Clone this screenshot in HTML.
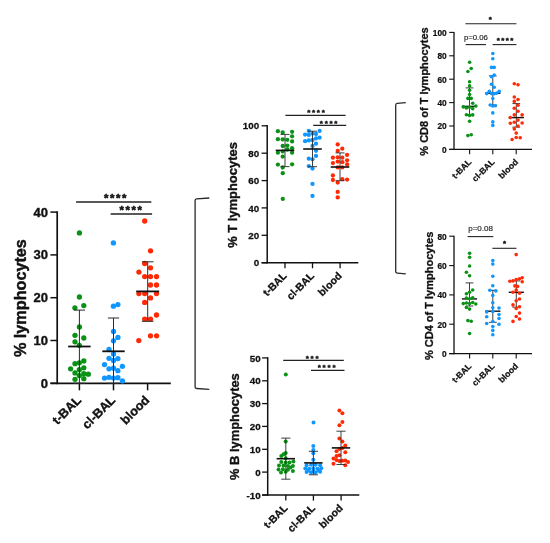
<!DOCTYPE html>
<html><head><meta charset="utf-8"><title>Lymphocyte subsets</title>
<style>
html,body{margin:0;padding:0;background:#fff;}
svg{display:block;font-family:"Liberation Sans",Arial,sans-serif;filter:blur(0.4px);}
</style></head><body>
<svg width="550" height="543" viewBox="0 0 550 543">
<rect width="550" height="543" fill="#fff"/>
<line x1="57.2" y1="211.3" x2="57.2" y2="384.2" stroke="#111" stroke-width="1.7" stroke-linecap="butt"/>
<line x1="50.4" y1="383.3" x2="170.8" y2="383.3" stroke="#111" stroke-width="1.7" stroke-linecap="butt"/>
<line x1="50.4" y1="383.3" x2="57.2" y2="383.3" stroke="#111" stroke-width="1.5" stroke-linecap="butt"/>
<text x="48.0" y="387.8" font-size="13" font-weight="bold" text-anchor="end" fill="#111" stroke="#111" stroke-width="0.36">0</text>
<line x1="50.4" y1="340.5" x2="57.2" y2="340.5" stroke="#111" stroke-width="1.5" stroke-linecap="butt"/>
<text x="48.0" y="345.0" font-size="13" font-weight="bold" text-anchor="end" fill="#111" stroke="#111" stroke-width="0.36">10</text>
<line x1="50.4" y1="297.7" x2="57.2" y2="297.7" stroke="#111" stroke-width="1.5" stroke-linecap="butt"/>
<text x="48.0" y="302.2" font-size="13" font-weight="bold" text-anchor="end" fill="#111" stroke="#111" stroke-width="0.36">20</text>
<line x1="50.4" y1="254.9" x2="57.2" y2="254.9" stroke="#111" stroke-width="1.5" stroke-linecap="butt"/>
<text x="48.0" y="259.4" font-size="13" font-weight="bold" text-anchor="end" fill="#111" stroke="#111" stroke-width="0.36">30</text>
<line x1="50.4" y1="212.1" x2="57.2" y2="212.1" stroke="#111" stroke-width="1.5" stroke-linecap="butt"/>
<text x="48.0" y="216.6" font-size="13" font-weight="bold" text-anchor="end" fill="#111" stroke="#111" stroke-width="0.36">40</text>
<line x1="79.4" y1="383.3" x2="79.4" y2="390.3" stroke="#111" stroke-width="1.5" stroke-linecap="butt"/>
<text transform="translate(82.0,400.9) rotate(-45)" font-size="12.7" font-weight="bold" text-anchor="end" fill="#111" stroke="#111" stroke-width="0.36">t-BAL</text>
<line x1="113.5" y1="383.3" x2="113.5" y2="390.3" stroke="#111" stroke-width="1.5" stroke-linecap="butt"/>
<text transform="translate(116.1,400.9) rotate(-45)" font-size="12.7" font-weight="bold" text-anchor="end" fill="#111" stroke="#111" stroke-width="0.36">cl-BAL</text>
<line x1="147.6" y1="383.3" x2="147.6" y2="390.3" stroke="#111" stroke-width="1.5" stroke-linecap="butt"/>
<text transform="translate(150.2,400.9) rotate(-45)" font-size="12.7" font-weight="bold" text-anchor="end" fill="#111" stroke="#111" stroke-width="0.36">blood</text>
<text transform="translate(26.3,298.1) rotate(-90)" font-size="16.2" font-weight="bold" text-anchor="middle" fill="#111" stroke="#111" stroke-width="0.45">% lymphocytes</text>
<circle cx="79.4" cy="232.9" r="2.65" fill="#0a9216"/>
<circle cx="79.4" cy="297.0" r="2.65" fill="#0a9216"/>
<circle cx="83.8" cy="305.6" r="2.65" fill="#0a9216"/>
<circle cx="74.9" cy="307.8" r="2.65" fill="#0a9216"/>
<circle cx="79.4" cy="326.9" r="2.65" fill="#0a9216"/>
<circle cx="75.0" cy="335.3" r="2.65" fill="#0a9216"/>
<circle cx="83.8" cy="338.0" r="2.65" fill="#0a9216"/>
<circle cx="75.0" cy="341.8" r="2.65" fill="#0a9216"/>
<circle cx="79.3" cy="345.3" r="2.65" fill="#0a9216"/>
<circle cx="83.8" cy="360.9" r="2.65" fill="#0a9216"/>
<circle cx="79.3" cy="362.8" r="2.65" fill="#0a9216"/>
<circle cx="75.0" cy="363.7" r="2.65" fill="#0a9216"/>
<circle cx="83.8" cy="367.8" r="2.65" fill="#0a9216"/>
<circle cx="70.6" cy="368.8" r="2.65" fill="#0a9216"/>
<circle cx="79.3" cy="369.7" r="2.65" fill="#0a9216"/>
<circle cx="75.0" cy="372.9" r="2.65" fill="#0a9216"/>
<circle cx="83.8" cy="373.7" r="2.65" fill="#0a9216"/>
<circle cx="88.3" cy="374.2" r="2.65" fill="#0a9216"/>
<circle cx="79.3" cy="375.6" r="2.65" fill="#0a9216"/>
<circle cx="75.0" cy="379.3" r="2.65" fill="#0a9216"/>
<circle cx="83.8" cy="378.7" r="2.65" fill="#0a9216"/>
<line x1="79.4" y1="310.1" x2="79.4" y2="383.3" stroke="#2a2a2a" stroke-width="1" stroke-linecap="butt"/>
<line x1="73.8" y1="310.1" x2="85.0" y2="310.1" stroke="#2a2a2a" stroke-width="1" stroke-linecap="butt"/>
<line x1="73.8" y1="383.3" x2="85.0" y2="383.3" stroke="#2a2a2a" stroke-width="1" stroke-linecap="butt"/>
<line x1="68.2" y1="346.5" x2="90.6" y2="346.5" stroke="#111" stroke-width="1.8" stroke-linecap="butt"/>
<circle cx="113.4" cy="242.9" r="2.65" fill="#0f96ff"/>
<circle cx="113.4" cy="306.2" r="2.65" fill="#0f96ff"/>
<circle cx="117.9" cy="304.6" r="2.65" fill="#0f96ff"/>
<circle cx="113.5" cy="331.5" r="2.65" fill="#0f96ff"/>
<circle cx="117.9" cy="337.4" r="2.65" fill="#0f96ff"/>
<circle cx="113.5" cy="340.8" r="2.65" fill="#0f96ff"/>
<circle cx="109.0" cy="349.5" r="2.65" fill="#0f96ff"/>
<circle cx="113.5" cy="353.9" r="2.65" fill="#0f96ff"/>
<circle cx="109.0" cy="358.3" r="2.65" fill="#0f96ff"/>
<circle cx="117.9" cy="358.6" r="2.65" fill="#0f96ff"/>
<circle cx="113.5" cy="360.5" r="2.65" fill="#0f96ff"/>
<circle cx="104.5" cy="364.6" r="2.65" fill="#0f96ff"/>
<circle cx="122.4" cy="366.3" r="2.65" fill="#0f96ff"/>
<circle cx="109.0" cy="368.8" r="2.65" fill="#0f96ff"/>
<circle cx="113.5" cy="368.2" r="2.65" fill="#0f96ff"/>
<circle cx="117.9" cy="370.7" r="2.65" fill="#0f96ff"/>
<circle cx="104.5" cy="378.1" r="2.65" fill="#0f96ff"/>
<circle cx="109.0" cy="377.3" r="2.65" fill="#0f96ff"/>
<circle cx="113.5" cy="378.1" r="2.65" fill="#0f96ff"/>
<circle cx="117.9" cy="377.7" r="2.65" fill="#0f96ff"/>
<circle cx="122.4" cy="380.9" r="2.65" fill="#0f96ff"/>
<line x1="113.5" y1="318.0" x2="113.5" y2="383.3" stroke="#2a2a2a" stroke-width="1" stroke-linecap="butt"/>
<line x1="107.9" y1="318.0" x2="119.1" y2="318.0" stroke="#2a2a2a" stroke-width="1" stroke-linecap="butt"/>
<line x1="107.9" y1="383.3" x2="119.1" y2="383.3" stroke="#2a2a2a" stroke-width="1" stroke-linecap="butt"/>
<line x1="102.3" y1="351.3" x2="124.7" y2="351.3" stroke="#111" stroke-width="1.8" stroke-linecap="butt"/>
<circle cx="144.7" cy="221.0" r="2.65" fill="#ff2a05"/>
<circle cx="150.5" cy="250.8" r="2.65" fill="#ff2a05"/>
<circle cx="144.7" cy="263.5" r="2.65" fill="#ff2a05"/>
<circle cx="150.5" cy="267.8" r="2.65" fill="#ff2a05"/>
<circle cx="138.9" cy="272.1" r="2.65" fill="#ff2a05"/>
<circle cx="144.7" cy="276.6" r="2.65" fill="#ff2a05"/>
<circle cx="150.5" cy="276.6" r="2.65" fill="#ff2a05"/>
<circle cx="156.5" cy="276.6" r="2.65" fill="#ff2a05"/>
<circle cx="150.5" cy="285.0" r="2.65" fill="#ff2a05"/>
<circle cx="156.5" cy="285.0" r="2.65" fill="#ff2a05"/>
<circle cx="138.9" cy="293.6" r="2.65" fill="#ff2a05"/>
<circle cx="144.7" cy="293.6" r="2.65" fill="#ff2a05"/>
<circle cx="156.5" cy="293.6" r="2.65" fill="#ff2a05"/>
<circle cx="150.5" cy="297.9" r="2.65" fill="#ff2a05"/>
<circle cx="144.7" cy="302.4" r="2.65" fill="#ff2a05"/>
<circle cx="156.5" cy="315.0" r="2.65" fill="#ff2a05"/>
<circle cx="144.7" cy="319.1" r="2.65" fill="#ff2a05"/>
<circle cx="150.5" cy="319.1" r="2.65" fill="#ff2a05"/>
<circle cx="150.5" cy="335.8" r="2.65" fill="#ff2a05"/>
<circle cx="156.6" cy="335.8" r="2.65" fill="#ff2a05"/>
<circle cx="138.8" cy="340.6" r="2.65" fill="#ff2a05"/>
<line x1="147.7" y1="261.8" x2="147.7" y2="321.3" stroke="#2a2a2a" stroke-width="1" stroke-linecap="butt"/>
<line x1="141.9" y1="261.8" x2="153.5" y2="261.8" stroke="#2a2a2a" stroke-width="1" stroke-linecap="butt"/>
<line x1="141.9" y1="321.3" x2="153.5" y2="321.3" stroke="#2a2a2a" stroke-width="1" stroke-linecap="butt"/>
<line x1="136.2" y1="291.4" x2="159.2" y2="291.4" stroke="#111" stroke-width="1.8" stroke-linecap="butt"/>
<line x1="76.1" y1="202.0" x2="151.3" y2="202.0" stroke="#222" stroke-width="1.5" stroke-linecap="butt"/>
<line x1="110.6" y1="214.0" x2="152.1" y2="214.0" stroke="#222" stroke-width="1.5" stroke-linecap="butt"/>
<text x="116.10" y="201.86" font-size="11.3" font-weight="bold" text-anchor="middle" fill="#111" stroke="#111" stroke-width="0.57" stroke-linejoin="round" letter-spacing="1.60">****</text>
<text x="131.60" y="214.46" font-size="11.3" font-weight="bold" text-anchor="middle" fill="#111" stroke="#111" stroke-width="0.57" stroke-linejoin="round" letter-spacing="1.60">****</text>
<line x1="267.2" y1="125.1" x2="267.2" y2="263.4" stroke="#111" stroke-width="1.5" stroke-linecap="butt"/>
<line x1="261.6" y1="262.7" x2="358.3" y2="262.7" stroke="#111" stroke-width="1.5" stroke-linecap="butt"/>
<line x1="261.6" y1="262.7" x2="267.2" y2="262.7" stroke="#111" stroke-width="1.3" stroke-linecap="butt"/>
<text x="259.2" y="266.3" font-size="9.8" font-weight="bold" text-anchor="end" fill="#111" stroke="#111" stroke-width="0.27">0</text>
<line x1="261.6" y1="235.3" x2="267.2" y2="235.3" stroke="#111" stroke-width="1.3" stroke-linecap="butt"/>
<text x="259.2" y="238.9" font-size="9.8" font-weight="bold" text-anchor="end" fill="#111" stroke="#111" stroke-width="0.27">20</text>
<line x1="261.6" y1="207.9" x2="267.2" y2="207.9" stroke="#111" stroke-width="1.3" stroke-linecap="butt"/>
<text x="259.2" y="211.5" font-size="9.8" font-weight="bold" text-anchor="end" fill="#111" stroke="#111" stroke-width="0.27">40</text>
<line x1="261.6" y1="180.6" x2="267.2" y2="180.6" stroke="#111" stroke-width="1.3" stroke-linecap="butt"/>
<text x="259.2" y="184.2" font-size="9.8" font-weight="bold" text-anchor="end" fill="#111" stroke="#111" stroke-width="0.27">60</text>
<line x1="261.6" y1="153.2" x2="267.2" y2="153.2" stroke="#111" stroke-width="1.3" stroke-linecap="butt"/>
<text x="259.2" y="156.8" font-size="9.8" font-weight="bold" text-anchor="end" fill="#111" stroke="#111" stroke-width="0.27">80</text>
<line x1="261.6" y1="125.8" x2="267.2" y2="125.8" stroke="#111" stroke-width="1.3" stroke-linecap="butt"/>
<text x="259.2" y="129.4" font-size="9.8" font-weight="bold" text-anchor="end" fill="#111" stroke="#111" stroke-width="0.27">100</text>
<line x1="285.0" y1="262.7" x2="285.0" y2="268.3" stroke="#111" stroke-width="1.3" stroke-linecap="butt"/>
<text transform="translate(287.4,276.5) rotate(-45)" font-size="10.5" font-weight="bold" text-anchor="end" fill="#111" stroke="#111" stroke-width="0.29">t-BAL</text>
<line x1="312.5" y1="262.7" x2="312.5" y2="268.3" stroke="#111" stroke-width="1.3" stroke-linecap="butt"/>
<text transform="translate(314.9,276.5) rotate(-45)" font-size="10.5" font-weight="bold" text-anchor="end" fill="#111" stroke="#111" stroke-width="0.29">cl-BAL</text>
<line x1="340.1" y1="262.7" x2="340.1" y2="268.3" stroke="#111" stroke-width="1.3" stroke-linecap="butt"/>
<text transform="translate(342.5,276.5) rotate(-45)" font-size="10.5" font-weight="bold" text-anchor="end" fill="#111" stroke="#111" stroke-width="0.29">blood</text>
<text transform="translate(237.2,195.0) rotate(-90)" font-size="12.95" font-weight="bold" text-anchor="middle" fill="#111" stroke="#111" stroke-width="0.36">% T lymphocytes</text>
<circle cx="277.9" cy="131.2" r="2.15" fill="#0a9216"/>
<circle cx="282.7" cy="132.5" r="2.15" fill="#0a9216"/>
<circle cx="292.1" cy="131.8" r="2.15" fill="#0a9216"/>
<circle cx="292.1" cy="136.3" r="2.15" fill="#0a9216"/>
<circle cx="277.9" cy="139.2" r="2.15" fill="#0a9216"/>
<circle cx="282.7" cy="139.4" r="2.15" fill="#0a9216"/>
<circle cx="287.3" cy="139.8" r="2.15" fill="#0a9216"/>
<circle cx="292.1" cy="141.4" r="2.15" fill="#0a9216"/>
<circle cx="282.7" cy="146.0" r="2.15" fill="#0a9216"/>
<circle cx="287.3" cy="145.6" r="2.15" fill="#0a9216"/>
<circle cx="292.1" cy="148.2" r="2.15" fill="#0a9216"/>
<circle cx="287.3" cy="149.5" r="2.15" fill="#0a9216"/>
<circle cx="277.9" cy="152.7" r="2.15" fill="#0a9216"/>
<circle cx="282.7" cy="151.4" r="2.15" fill="#0a9216"/>
<circle cx="292.1" cy="152.7" r="2.15" fill="#0a9216"/>
<circle cx="282.7" cy="156.6" r="2.15" fill="#0a9216"/>
<circle cx="277.9" cy="164.6" r="2.15" fill="#0a9216"/>
<circle cx="292.1" cy="164.3" r="2.15" fill="#0a9216"/>
<circle cx="282.7" cy="167.5" r="2.15" fill="#0a9216"/>
<circle cx="282.8" cy="173.2" r="2.15" fill="#0a9216"/>
<circle cx="282.8" cy="198.9" r="2.15" fill="#0a9216"/>
<line x1="285.0" y1="134.4" x2="285.0" y2="166.6" stroke="#2a2a2a" stroke-width="0.9" stroke-linecap="butt"/>
<line x1="280.5" y1="134.4" x2="289.5" y2="134.4" stroke="#2a2a2a" stroke-width="0.9" stroke-linecap="butt"/>
<line x1="280.5" y1="166.6" x2="289.5" y2="166.6" stroke="#2a2a2a" stroke-width="0.9" stroke-linecap="butt"/>
<line x1="275.7" y1="150.4" x2="294.3" y2="150.4" stroke="#111" stroke-width="1.6" stroke-linecap="butt"/>
<circle cx="308.8" cy="130.9" r="2.15" fill="#0f96ff"/>
<circle cx="319.6" cy="130.9" r="2.15" fill="#0f96ff"/>
<circle cx="305.1" cy="134.6" r="2.15" fill="#0f96ff"/>
<circle cx="308.8" cy="134.9" r="2.15" fill="#0f96ff"/>
<circle cx="312.5" cy="133.5" r="2.15" fill="#0f96ff"/>
<circle cx="316.0" cy="134.0" r="2.15" fill="#0f96ff"/>
<circle cx="319.6" cy="137.7" r="2.15" fill="#0f96ff"/>
<circle cx="316.0" cy="138.4" r="2.15" fill="#0f96ff"/>
<circle cx="305.1" cy="141.2" r="2.15" fill="#0f96ff"/>
<circle cx="308.8" cy="140.4" r="2.15" fill="#0f96ff"/>
<circle cx="312.5" cy="140.0" r="2.15" fill="#0f96ff"/>
<circle cx="316.0" cy="143.7" r="2.15" fill="#0f96ff"/>
<circle cx="312.5" cy="146.0" r="2.15" fill="#0f96ff"/>
<circle cx="316.0" cy="150.8" r="2.15" fill="#0f96ff"/>
<circle cx="316.0" cy="155.9" r="2.15" fill="#0f96ff"/>
<circle cx="308.8" cy="158.7" r="2.15" fill="#0f96ff"/>
<circle cx="312.5" cy="159.3" r="2.15" fill="#0f96ff"/>
<circle cx="308.8" cy="166.1" r="2.15" fill="#0f96ff"/>
<circle cx="312.5" cy="168.5" r="2.15" fill="#0f96ff"/>
<circle cx="312.5" cy="183.9" r="2.15" fill="#0f96ff"/>
<circle cx="312.5" cy="195.9" r="2.15" fill="#0f96ff"/>
<line x1="312.5" y1="131.2" x2="312.5" y2="166.7" stroke="#2a2a2a" stroke-width="0.9" stroke-linecap="butt"/>
<line x1="308.0" y1="131.2" x2="317.0" y2="131.2" stroke="#2a2a2a" stroke-width="0.9" stroke-linecap="butt"/>
<line x1="308.0" y1="166.7" x2="317.0" y2="166.7" stroke="#2a2a2a" stroke-width="0.9" stroke-linecap="butt"/>
<line x1="303.2" y1="149.0" x2="321.8" y2="149.0" stroke="#111" stroke-width="1.6" stroke-linecap="butt"/>
<circle cx="337.7" cy="144.4" r="2.15" fill="#ff2a05"/>
<circle cx="342.3" cy="148.7" r="2.15" fill="#ff2a05"/>
<circle cx="337.7" cy="150.9" r="2.15" fill="#ff2a05"/>
<circle cx="347.1" cy="154.9" r="2.15" fill="#ff2a05"/>
<circle cx="332.9" cy="157.7" r="2.15" fill="#ff2a05"/>
<circle cx="337.7" cy="157.3" r="2.15" fill="#ff2a05"/>
<circle cx="342.3" cy="157.7" r="2.15" fill="#ff2a05"/>
<circle cx="347.1" cy="160.3" r="2.15" fill="#ff2a05"/>
<circle cx="332.9" cy="163.1" r="2.15" fill="#ff2a05"/>
<circle cx="337.7" cy="161.6" r="2.15" fill="#ff2a05"/>
<circle cx="342.3" cy="162.2" r="2.15" fill="#ff2a05"/>
<circle cx="347.1" cy="164.5" r="2.15" fill="#ff2a05"/>
<circle cx="337.7" cy="167.4" r="2.15" fill="#ff2a05"/>
<circle cx="342.3" cy="167.4" r="2.15" fill="#ff2a05"/>
<circle cx="332.9" cy="175.5" r="2.15" fill="#ff2a05"/>
<circle cx="332.9" cy="180.0" r="2.15" fill="#ff2a05"/>
<circle cx="337.7" cy="182.6" r="2.15" fill="#ff2a05"/>
<circle cx="342.3" cy="179.2" r="2.15" fill="#ff2a05"/>
<circle cx="347.1" cy="179.6" r="2.15" fill="#ff2a05"/>
<circle cx="337.7" cy="191.9" r="2.15" fill="#ff2a05"/>
<circle cx="337.7" cy="197.4" r="2.15" fill="#ff2a05"/>
<line x1="340.0" y1="152.9" x2="340.0" y2="180.7" stroke="#2a2a2a" stroke-width="0.9" stroke-linecap="butt"/>
<line x1="335.5" y1="152.9" x2="344.5" y2="152.9" stroke="#2a2a2a" stroke-width="0.9" stroke-linecap="butt"/>
<line x1="335.5" y1="180.7" x2="344.5" y2="180.7" stroke="#2a2a2a" stroke-width="0.9" stroke-linecap="butt"/>
<line x1="330.7" y1="167.0" x2="349.3" y2="167.0" stroke="#111" stroke-width="1.6" stroke-linecap="butt"/>
<line x1="285.4" y1="115.4" x2="345.6" y2="115.4" stroke="#222" stroke-width="1.3" stroke-linecap="butt"/>
<line x1="313.2" y1="125.3" x2="346.2" y2="125.3" stroke="#222" stroke-width="1.3" stroke-linecap="butt"/>
<text x="316.84" y="115.28" font-size="8.0" font-weight="bold" text-anchor="middle" fill="#111" stroke="#111" stroke-width="0.40" stroke-linejoin="round" letter-spacing="1.69">****</text>
<text x="329.44" y="125.58" font-size="8.0" font-weight="bold" text-anchor="middle" fill="#111" stroke="#111" stroke-width="0.40" stroke-linejoin="round" letter-spacing="1.69">****</text>
<line x1="267.7" y1="357.2" x2="267.7" y2="495.8" stroke="#111" stroke-width="1.5" stroke-linecap="butt"/>
<line x1="262.1" y1="495.0" x2="359.3" y2="495.0" stroke="#111" stroke-width="1.5" stroke-linecap="butt"/>
<line x1="262.1" y1="495.0" x2="267.7" y2="495.0" stroke="#111" stroke-width="1.3" stroke-linecap="butt"/>
<text x="260.6" y="498.6" font-size="9.8" font-weight="bold" text-anchor="end" fill="#111" stroke="#111" stroke-width="0.27">-10</text>
<line x1="262.1" y1="472.1" x2="267.7" y2="472.1" stroke="#111" stroke-width="1.3" stroke-linecap="butt"/>
<text x="260.6" y="475.8" font-size="9.8" font-weight="bold" text-anchor="end" fill="#111" stroke="#111" stroke-width="0.27">0</text>
<line x1="262.1" y1="449.3" x2="267.7" y2="449.3" stroke="#111" stroke-width="1.3" stroke-linecap="butt"/>
<text x="260.6" y="452.9" font-size="9.8" font-weight="bold" text-anchor="end" fill="#111" stroke="#111" stroke-width="0.27">10</text>
<line x1="262.1" y1="426.4" x2="267.7" y2="426.4" stroke="#111" stroke-width="1.3" stroke-linecap="butt"/>
<text x="260.6" y="430.1" font-size="9.8" font-weight="bold" text-anchor="end" fill="#111" stroke="#111" stroke-width="0.27">20</text>
<line x1="262.1" y1="403.6" x2="267.7" y2="403.6" stroke="#111" stroke-width="1.3" stroke-linecap="butt"/>
<text x="260.6" y="407.2" font-size="9.8" font-weight="bold" text-anchor="end" fill="#111" stroke="#111" stroke-width="0.27">30</text>
<line x1="262.1" y1="380.8" x2="267.7" y2="380.8" stroke="#111" stroke-width="1.3" stroke-linecap="butt"/>
<text x="260.6" y="384.4" font-size="9.8" font-weight="bold" text-anchor="end" fill="#111" stroke="#111" stroke-width="0.27">40</text>
<line x1="262.1" y1="357.9" x2="267.7" y2="357.9" stroke="#111" stroke-width="1.3" stroke-linecap="butt"/>
<text x="260.6" y="361.5" font-size="9.8" font-weight="bold" text-anchor="end" fill="#111" stroke="#111" stroke-width="0.27">50</text>
<line x1="285.8" y1="495.0" x2="285.8" y2="500.6" stroke="#111" stroke-width="1.3" stroke-linecap="butt"/>
<text transform="translate(288.2,508.8) rotate(-45)" font-size="10.5" font-weight="bold" text-anchor="end" fill="#111" stroke="#111" stroke-width="0.29">t-BAL</text>
<line x1="313.4" y1="495.0" x2="313.4" y2="500.6" stroke="#111" stroke-width="1.3" stroke-linecap="butt"/>
<text transform="translate(315.8,508.8) rotate(-45)" font-size="10.5" font-weight="bold" text-anchor="end" fill="#111" stroke="#111" stroke-width="0.29">cl-BAL</text>
<line x1="341.1" y1="495.0" x2="341.1" y2="500.6" stroke="#111" stroke-width="1.3" stroke-linecap="butt"/>
<text transform="translate(343.5,508.8) rotate(-45)" font-size="10.5" font-weight="bold" text-anchor="end" fill="#111" stroke="#111" stroke-width="0.29">blood</text>
<text transform="translate(239.3,426.6) rotate(-90)" font-size="12.9" font-weight="bold" text-anchor="middle" fill="#111" stroke="#111" stroke-width="0.36">% B lymphocytes</text>
<circle cx="285.8" cy="374.4" r="2.0" fill="#0a9216"/>
<circle cx="285.7" cy="441.4" r="2.0" fill="#0a9216"/>
<circle cx="285.7" cy="453.0" r="2.0" fill="#0a9216"/>
<circle cx="283.5" cy="454.3" r="2.0" fill="#0a9216"/>
<circle cx="281.3" cy="456.0" r="2.0" fill="#0a9216"/>
<circle cx="285.7" cy="458.2" r="2.0" fill="#0a9216"/>
<circle cx="281.3" cy="462.0" r="2.0" fill="#0a9216"/>
<circle cx="293.4" cy="461.5" r="2.0" fill="#0a9216"/>
<circle cx="289.5" cy="462.6" r="2.0" fill="#0a9216"/>
<circle cx="279.0" cy="465.6" r="2.0" fill="#0a9216"/>
<circle cx="283.5" cy="465.4" r="2.0" fill="#0a9216"/>
<circle cx="287.9" cy="465.9" r="2.0" fill="#0a9216"/>
<circle cx="292.9" cy="465.9" r="2.0" fill="#0a9216"/>
<circle cx="285.7" cy="462.6" r="2.0" fill="#0a9216"/>
<circle cx="278.5" cy="469.6" r="2.0" fill="#0a9216"/>
<circle cx="282.9" cy="469.2" r="2.0" fill="#0a9216"/>
<circle cx="287.9" cy="469.8" r="2.0" fill="#0a9216"/>
<circle cx="292.9" cy="470.9" r="2.0" fill="#0a9216"/>
<circle cx="290.4" cy="467.6" r="2.0" fill="#0a9216"/>
<circle cx="285.7" cy="471.8" r="2.0" fill="#0a9216"/>
<circle cx="281.0" cy="472.6" r="2.0" fill="#0a9216"/>
<line x1="285.8" y1="438.1" x2="285.8" y2="479.2" stroke="#2a2a2a" stroke-width="0.9" stroke-linecap="butt"/>
<line x1="281.2" y1="438.1" x2="290.4" y2="438.1" stroke="#2a2a2a" stroke-width="0.9" stroke-linecap="butt"/>
<line x1="281.2" y1="479.2" x2="290.4" y2="479.2" stroke="#2a2a2a" stroke-width="0.9" stroke-linecap="butt"/>
<line x1="276.6" y1="458.7" x2="295.0" y2="458.7" stroke="#111" stroke-width="1.6" stroke-linecap="butt"/>
<circle cx="313.5" cy="422.6" r="2.0" fill="#0f96ff"/>
<circle cx="313.3" cy="446.0" r="2.0" fill="#0f96ff"/>
<circle cx="313.3" cy="449.9" r="2.0" fill="#0f96ff"/>
<circle cx="313.3" cy="453.2" r="2.0" fill="#0f96ff"/>
<circle cx="313.3" cy="459.8" r="2.0" fill="#0f96ff"/>
<circle cx="306.6" cy="465.3" r="2.0" fill="#0f96ff"/>
<circle cx="311.0" cy="464.8" r="2.0" fill="#0f96ff"/>
<circle cx="315.6" cy="464.8" r="2.0" fill="#0f96ff"/>
<circle cx="320.1" cy="465.3" r="2.0" fill="#0f96ff"/>
<circle cx="305.3" cy="468.6" r="2.0" fill="#0f96ff"/>
<circle cx="309.2" cy="468.8" r="2.0" fill="#0f96ff"/>
<circle cx="313.3" cy="468.4" r="2.0" fill="#0f96ff"/>
<circle cx="317.4" cy="468.8" r="2.0" fill="#0f96ff"/>
<circle cx="321.3" cy="468.2" r="2.0" fill="#0f96ff"/>
<circle cx="306.6" cy="472.0" r="2.0" fill="#0f96ff"/>
<circle cx="311.0" cy="472.4" r="2.0" fill="#0f96ff"/>
<circle cx="315.6" cy="472.4" r="2.0" fill="#0f96ff"/>
<circle cx="320.1" cy="471.8" r="2.0" fill="#0f96ff"/>
<circle cx="313.3" cy="471.2" r="2.0" fill="#0f96ff"/>
<circle cx="308.2" cy="470.6" r="2.0" fill="#0f96ff"/>
<circle cx="318.6" cy="470.4" r="2.0" fill="#0f96ff"/>
<line x1="313.4" y1="451.3" x2="313.4" y2="474.8" stroke="#2a2a2a" stroke-width="0.9" stroke-linecap="butt"/>
<line x1="308.8" y1="451.3" x2="318.0" y2="451.3" stroke="#2a2a2a" stroke-width="0.9" stroke-linecap="butt"/>
<line x1="308.8" y1="474.8" x2="318.0" y2="474.8" stroke="#2a2a2a" stroke-width="0.9" stroke-linecap="butt"/>
<line x1="304.2" y1="462.9" x2="322.6" y2="462.9" stroke="#111" stroke-width="1.6" stroke-linecap="butt"/>
<circle cx="339.4" cy="410.6" r="2.0" fill="#ff2a05"/>
<circle cx="342.4" cy="413.3" r="2.0" fill="#ff2a05"/>
<circle cx="342.4" cy="422.1" r="2.0" fill="#ff2a05"/>
<circle cx="339.4" cy="425.3" r="2.0" fill="#ff2a05"/>
<circle cx="339.4" cy="438.6" r="2.0" fill="#ff2a05"/>
<circle cx="342.4" cy="441.5" r="2.0" fill="#ff2a05"/>
<circle cx="345.3" cy="445.4" r="2.0" fill="#ff2a05"/>
<circle cx="342.4" cy="447.9" r="2.0" fill="#ff2a05"/>
<circle cx="339.4" cy="448.9" r="2.0" fill="#ff2a05"/>
<circle cx="336.5" cy="451.3" r="2.0" fill="#ff2a05"/>
<circle cx="345.3" cy="452.3" r="2.0" fill="#ff2a05"/>
<circle cx="339.4" cy="455.2" r="2.0" fill="#ff2a05"/>
<circle cx="336.5" cy="456.0" r="2.0" fill="#ff2a05"/>
<circle cx="333.5" cy="458.5" r="2.0" fill="#ff2a05"/>
<circle cx="336.5" cy="460.0" r="2.0" fill="#ff2a05"/>
<circle cx="339.4" cy="461.1" r="2.0" fill="#ff2a05"/>
<circle cx="342.4" cy="460.7" r="2.0" fill="#ff2a05"/>
<circle cx="345.3" cy="460.4" r="2.0" fill="#ff2a05"/>
<circle cx="348.0" cy="461.9" r="2.0" fill="#ff2a05"/>
<circle cx="333.5" cy="463.8" r="2.0" fill="#ff2a05"/>
<circle cx="345.3" cy="465.3" r="2.0" fill="#ff2a05"/>
<line x1="341.0" y1="431.2" x2="341.0" y2="464.5" stroke="#2a2a2a" stroke-width="0.9" stroke-linecap="butt"/>
<line x1="336.4" y1="431.2" x2="345.6" y2="431.2" stroke="#2a2a2a" stroke-width="0.9" stroke-linecap="butt"/>
<line x1="336.4" y1="464.5" x2="345.6" y2="464.5" stroke="#2a2a2a" stroke-width="0.9" stroke-linecap="butt"/>
<line x1="331.8" y1="447.9" x2="350.2" y2="447.9" stroke="#111" stroke-width="1.6" stroke-linecap="butt"/>
<line x1="283.2" y1="360.4" x2="343.8" y2="360.4" stroke="#222" stroke-width="1.3" stroke-linecap="butt"/>
<line x1="311.0" y1="370.3" x2="344.5" y2="370.3" stroke="#222" stroke-width="1.3" stroke-linecap="butt"/>
<text x="312.99" y="360.58" font-size="8.0" font-weight="bold" text-anchor="middle" fill="#111" stroke="#111" stroke-width="0.40" stroke-linejoin="round" letter-spacing="1.79">***</text>
<text x="327.49" y="369.98" font-size="8.0" font-weight="bold" text-anchor="middle" fill="#111" stroke="#111" stroke-width="0.40" stroke-linejoin="round" letter-spacing="1.79">****</text>
<line x1="454.0" y1="31.9" x2="454.0" y2="150.1" stroke="#111" stroke-width="1.3" stroke-linecap="butt"/>
<line x1="449.2" y1="149.4" x2="532.0" y2="149.4" stroke="#111" stroke-width="1.3" stroke-linecap="butt"/>
<line x1="449.2" y1="149.4" x2="454.0" y2="149.4" stroke="#111" stroke-width="1.1" stroke-linecap="butt"/>
<text x="446.7" y="152.7" font-size="8.3" font-weight="bold" text-anchor="end" fill="#111" stroke="#111" stroke-width="0.23">0</text>
<line x1="449.2" y1="126.0" x2="454.0" y2="126.0" stroke="#111" stroke-width="1.1" stroke-linecap="butt"/>
<text x="446.7" y="129.3" font-size="8.3" font-weight="bold" text-anchor="end" fill="#111" stroke="#111" stroke-width="0.23">20</text>
<line x1="449.2" y1="102.6" x2="454.0" y2="102.6" stroke="#111" stroke-width="1.1" stroke-linecap="butt"/>
<text x="446.7" y="105.9" font-size="8.3" font-weight="bold" text-anchor="end" fill="#111" stroke="#111" stroke-width="0.23">40</text>
<line x1="449.2" y1="79.2" x2="454.0" y2="79.2" stroke="#111" stroke-width="1.1" stroke-linecap="butt"/>
<text x="446.7" y="82.5" font-size="8.3" font-weight="bold" text-anchor="end" fill="#111" stroke="#111" stroke-width="0.23">60</text>
<line x1="449.2" y1="55.8" x2="454.0" y2="55.8" stroke="#111" stroke-width="1.1" stroke-linecap="butt"/>
<text x="446.7" y="59.1" font-size="8.3" font-weight="bold" text-anchor="end" fill="#111" stroke="#111" stroke-width="0.23">80</text>
<line x1="449.2" y1="32.4" x2="454.0" y2="32.4" stroke="#111" stroke-width="1.1" stroke-linecap="butt"/>
<text x="446.7" y="35.7" font-size="8.3" font-weight="bold" text-anchor="end" fill="#111" stroke="#111" stroke-width="0.23">100</text>
<line x1="469.6" y1="149.4" x2="469.6" y2="154.2" stroke="#111" stroke-width="1.1" stroke-linecap="butt"/>
<text transform="translate(472.0,162.6) rotate(-45)" font-size="8.6" font-weight="bold" text-anchor="end" fill="#111" stroke="#111" stroke-width="0.24">t-BAL</text>
<line x1="492.8" y1="149.4" x2="492.8" y2="154.2" stroke="#111" stroke-width="1.1" stroke-linecap="butt"/>
<text transform="translate(495.2,162.6) rotate(-45)" font-size="8.6" font-weight="bold" text-anchor="end" fill="#111" stroke="#111" stroke-width="0.24">cl-BAL</text>
<line x1="516.2" y1="149.4" x2="516.2" y2="154.2" stroke="#111" stroke-width="1.1" stroke-linecap="butt"/>
<text transform="translate(518.6,162.6) rotate(-45)" font-size="8.6" font-weight="bold" text-anchor="end" fill="#111" stroke="#111" stroke-width="0.24">blood</text>
<text transform="translate(427.8,91.5) rotate(-90)" font-size="11.0" font-weight="bold" text-anchor="middle" fill="#111" stroke="#111" stroke-width="0.31">% CD8 of T lymphocytes</text>
<line x1="469.5" y1="87.9" x2="469.5" y2="115.2" stroke="#2a2a2a" stroke-width="0.9" stroke-linecap="butt"/>
<line x1="465.6" y1="87.9" x2="473.4" y2="87.9" stroke="#2a2a2a" stroke-width="0.9" stroke-linecap="butt"/>
<line x1="465.6" y1="115.2" x2="473.4" y2="115.2" stroke="#2a2a2a" stroke-width="0.9" stroke-linecap="butt"/>
<line x1="461.9" y1="106.4" x2="477.1" y2="106.4" stroke="#111" stroke-width="1.4" stroke-linecap="butt"/>
<circle cx="469.6" cy="62.3" r="1.8" fill="#0a9216"/>
<circle cx="471.2" cy="68.5" r="1.8" fill="#0a9216"/>
<circle cx="467.9" cy="71.5" r="1.8" fill="#0a9216"/>
<circle cx="469.6" cy="81.7" r="1.8" fill="#0a9216"/>
<circle cx="469.6" cy="85.9" r="1.8" fill="#0a9216"/>
<circle cx="469.6" cy="90.3" r="1.8" fill="#0a9216"/>
<circle cx="469.6" cy="94.5" r="1.8" fill="#0a9216"/>
<circle cx="467.9" cy="98.4" r="1.8" fill="#0a9216"/>
<circle cx="471.2" cy="98.4" r="1.8" fill="#0a9216"/>
<circle cx="472.7" cy="103.3" r="1.8" fill="#0a9216"/>
<circle cx="463.3" cy="106.9" r="1.8" fill="#0a9216"/>
<circle cx="466.4" cy="108.0" r="1.8" fill="#0a9216"/>
<circle cx="469.6" cy="107.2" r="1.8" fill="#0a9216"/>
<circle cx="475.8" cy="106.0" r="1.8" fill="#0a9216"/>
<circle cx="472.7" cy="108.8" r="1.8" fill="#0a9216"/>
<circle cx="466.4" cy="114.7" r="1.8" fill="#0a9216"/>
<circle cx="469.6" cy="115.4" r="1.8" fill="#0a9216"/>
<circle cx="472.7" cy="114.9" r="1.8" fill="#0a9216"/>
<circle cx="469.6" cy="121.2" r="1.8" fill="#0a9216"/>
<circle cx="467.9" cy="135.6" r="1.8" fill="#0a9216"/>
<circle cx="471.2" cy="134.8" r="1.8" fill="#0a9216"/>
<line x1="492.8" y1="75.9" x2="492.8" y2="105.0" stroke="#2a2a2a" stroke-width="0.9" stroke-linecap="butt"/>
<line x1="488.9" y1="75.9" x2="496.7" y2="75.9" stroke="#2a2a2a" stroke-width="0.9" stroke-linecap="butt"/>
<line x1="488.9" y1="105.0" x2="496.7" y2="105.0" stroke="#2a2a2a" stroke-width="0.9" stroke-linecap="butt"/>
<line x1="485.2" y1="93.3" x2="500.4" y2="93.3" stroke="#111" stroke-width="1.4" stroke-linecap="butt"/>
<circle cx="492.8" cy="53.5" r="1.8" fill="#0f96ff"/>
<circle cx="492.8" cy="58.8" r="1.8" fill="#0f96ff"/>
<circle cx="491.5" cy="67.4" r="1.8" fill="#0f96ff"/>
<circle cx="494.2" cy="67.4" r="1.8" fill="#0f96ff"/>
<circle cx="494.2" cy="75.1" r="1.8" fill="#0f96ff"/>
<circle cx="491.5" cy="76.7" r="1.8" fill="#0f96ff"/>
<circle cx="491.5" cy="84.2" r="1.8" fill="#0f96ff"/>
<circle cx="494.2" cy="87.3" r="1.8" fill="#0f96ff"/>
<circle cx="489.3" cy="91.2" r="1.8" fill="#0f96ff"/>
<circle cx="499.2" cy="91.4" r="1.8" fill="#0f96ff"/>
<circle cx="486.7" cy="93.6" r="1.8" fill="#0f96ff"/>
<circle cx="491.5" cy="93.6" r="1.8" fill="#0f96ff"/>
<circle cx="494.2" cy="93.8" r="1.8" fill="#0f96ff"/>
<circle cx="496.8" cy="93.1" r="1.8" fill="#0f96ff"/>
<circle cx="492.8" cy="98.5" r="1.8" fill="#0f96ff"/>
<circle cx="490.2" cy="105.0" r="1.8" fill="#0f96ff"/>
<circle cx="492.8" cy="106.0" r="1.8" fill="#0f96ff"/>
<circle cx="495.4" cy="105.8" r="1.8" fill="#0f96ff"/>
<circle cx="492.8" cy="112.9" r="1.8" fill="#0f96ff"/>
<circle cx="492.8" cy="121.9" r="1.8" fill="#0f96ff"/>
<circle cx="492.8" cy="125.4" r="1.8" fill="#0f96ff"/>
<line x1="516.3" y1="103.6" x2="516.3" y2="127.1" stroke="#2a2a2a" stroke-width="0.9" stroke-linecap="butt"/>
<line x1="512.4" y1="103.6" x2="520.2" y2="103.6" stroke="#2a2a2a" stroke-width="0.9" stroke-linecap="butt"/>
<line x1="512.4" y1="127.1" x2="520.2" y2="127.1" stroke="#2a2a2a" stroke-width="0.9" stroke-linecap="butt"/>
<line x1="508.7" y1="117.6" x2="523.9" y2="117.6" stroke="#111" stroke-width="1.4" stroke-linecap="butt"/>
<circle cx="514.3" cy="83.7" r="1.8" fill="#ff2a05"/>
<circle cx="518.0" cy="84.7" r="1.8" fill="#ff2a05"/>
<circle cx="514.3" cy="97.0" r="1.8" fill="#ff2a05"/>
<circle cx="518.0" cy="99.5" r="1.8" fill="#ff2a05"/>
<circle cx="514.3" cy="101.4" r="1.8" fill="#ff2a05"/>
<circle cx="518.0" cy="105.3" r="1.8" fill="#ff2a05"/>
<circle cx="514.3" cy="108.3" r="1.8" fill="#ff2a05"/>
<circle cx="518.0" cy="111.2" r="1.8" fill="#ff2a05"/>
<circle cx="514.3" cy="114.9" r="1.8" fill="#ff2a05"/>
<circle cx="522.1" cy="114.9" r="1.8" fill="#ff2a05"/>
<circle cx="510.3" cy="117.6" r="1.8" fill="#ff2a05"/>
<circle cx="518.0" cy="120.1" r="1.8" fill="#ff2a05"/>
<circle cx="514.3" cy="122.3" r="1.8" fill="#ff2a05"/>
<circle cx="510.3" cy="123.3" r="1.8" fill="#ff2a05"/>
<circle cx="522.1" cy="123.0" r="1.8" fill="#ff2a05"/>
<circle cx="518.0" cy="126.0" r="1.8" fill="#ff2a05"/>
<circle cx="514.3" cy="128.9" r="1.8" fill="#ff2a05"/>
<circle cx="516.2" cy="133.1" r="1.8" fill="#ff2a05"/>
<circle cx="516.2" cy="137.5" r="1.8" fill="#ff2a05"/>
<circle cx="520.2" cy="137.8" r="1.8" fill="#ff2a05"/>
<circle cx="512.1" cy="139.5" r="1.8" fill="#ff2a05"/>
<line x1="465.4" y1="23.8" x2="516.4" y2="23.8" stroke="#222" stroke-width="1.1" stroke-linecap="butt"/>
<line x1="465.6" y1="44.6" x2="486.0" y2="44.6" stroke="#222" stroke-width="1.1" stroke-linecap="butt"/>
<line x1="492.6" y1="44.6" x2="516.4" y2="44.6" stroke="#222" stroke-width="1.1" stroke-linecap="butt"/>
<text x="490.86" y="22.13" font-size="7.9" font-weight="bold" text-anchor="middle" fill="#111" stroke="#111" stroke-width="0.40" stroke-linejoin="round" letter-spacing="0.93">*</text>
<text x="505.74" y="43.03" font-size="7.9" font-weight="bold" text-anchor="middle" fill="#111" stroke="#111" stroke-width="0.40" stroke-linejoin="round" letter-spacing="1.48">****</text>
<text x="463.9" y="39.9" font-size="7.8" font-weight="normal" text-anchor="start" fill="#222" stroke="#222" stroke-width="0.15">p=0.06</text>
<line x1="454.0" y1="235.7" x2="454.0" y2="354.2" stroke="#111" stroke-width="1.3" stroke-linecap="butt"/>
<line x1="449.2" y1="353.6" x2="532.0" y2="353.6" stroke="#111" stroke-width="1.3" stroke-linecap="butt"/>
<line x1="449.2" y1="353.6" x2="454.0" y2="353.6" stroke="#111" stroke-width="1.1" stroke-linecap="butt"/>
<text x="446.7" y="356.9" font-size="8.3" font-weight="bold" text-anchor="end" fill="#111" stroke="#111" stroke-width="0.23">0</text>
<line x1="449.2" y1="324.2" x2="454.0" y2="324.2" stroke="#111" stroke-width="1.1" stroke-linecap="butt"/>
<text x="446.7" y="327.5" font-size="8.3" font-weight="bold" text-anchor="end" fill="#111" stroke="#111" stroke-width="0.23">20</text>
<line x1="449.2" y1="294.9" x2="454.0" y2="294.9" stroke="#111" stroke-width="1.1" stroke-linecap="butt"/>
<text x="446.7" y="298.2" font-size="8.3" font-weight="bold" text-anchor="end" fill="#111" stroke="#111" stroke-width="0.23">40</text>
<line x1="449.2" y1="265.6" x2="454.0" y2="265.6" stroke="#111" stroke-width="1.1" stroke-linecap="butt"/>
<text x="446.7" y="268.8" font-size="8.3" font-weight="bold" text-anchor="end" fill="#111" stroke="#111" stroke-width="0.23">60</text>
<line x1="449.2" y1="236.2" x2="454.0" y2="236.2" stroke="#111" stroke-width="1.1" stroke-linecap="butt"/>
<text x="446.7" y="239.5" font-size="8.3" font-weight="bold" text-anchor="end" fill="#111" stroke="#111" stroke-width="0.23">80</text>
<line x1="469.6" y1="353.6" x2="469.6" y2="358.4" stroke="#111" stroke-width="1.1" stroke-linecap="butt"/>
<text transform="translate(472.0,366.8) rotate(-45)" font-size="8.6" font-weight="bold" text-anchor="end" fill="#111" stroke="#111" stroke-width="0.24">t-BAL</text>
<line x1="492.8" y1="353.6" x2="492.8" y2="358.4" stroke="#111" stroke-width="1.1" stroke-linecap="butt"/>
<text transform="translate(495.2,366.8) rotate(-45)" font-size="8.6" font-weight="bold" text-anchor="end" fill="#111" stroke="#111" stroke-width="0.24">cl-BAL</text>
<line x1="516.2" y1="353.6" x2="516.2" y2="358.4" stroke="#111" stroke-width="1.1" stroke-linecap="butt"/>
<text transform="translate(518.6,366.8) rotate(-45)" font-size="8.6" font-weight="bold" text-anchor="end" fill="#111" stroke="#111" stroke-width="0.24">blood</text>
<text transform="translate(433.0,295.9) rotate(-90)" font-size="11.0" font-weight="bold" text-anchor="middle" fill="#111" stroke="#111" stroke-width="0.31">% CD4 of T lymphocytes</text>
<line x1="469.5" y1="282.9" x2="469.5" y2="306.0" stroke="#2a2a2a" stroke-width="0.9" stroke-linecap="butt"/>
<line x1="465.6" y1="282.9" x2="473.4" y2="282.9" stroke="#2a2a2a" stroke-width="0.9" stroke-linecap="butt"/>
<line x1="465.6" y1="306.0" x2="473.4" y2="306.0" stroke="#2a2a2a" stroke-width="0.9" stroke-linecap="butt"/>
<line x1="461.9" y1="298.9" x2="477.1" y2="298.9" stroke="#111" stroke-width="1.4" stroke-linecap="butt"/>
<circle cx="469.6" cy="253.3" r="1.8" fill="#0a9216"/>
<circle cx="469.6" cy="257.2" r="1.8" fill="#0a9216"/>
<circle cx="469.6" cy="266.0" r="1.8" fill="#0a9216"/>
<circle cx="466.4" cy="272.3" r="1.8" fill="#0a9216"/>
<circle cx="469.6" cy="275.7" r="1.8" fill="#0a9216"/>
<circle cx="472.7" cy="290.0" r="1.8" fill="#0a9216"/>
<circle cx="469.6" cy="292.3" r="1.8" fill="#0a9216"/>
<circle cx="466.4" cy="293.8" r="1.8" fill="#0a9216"/>
<circle cx="466.4" cy="298.0" r="1.8" fill="#0a9216"/>
<circle cx="469.6" cy="298.8" r="1.8" fill="#0a9216"/>
<circle cx="472.7" cy="297.8" r="1.8" fill="#0a9216"/>
<circle cx="463.3" cy="303.6" r="1.8" fill="#0a9216"/>
<circle cx="466.4" cy="303.0" r="1.8" fill="#0a9216"/>
<circle cx="469.6" cy="303.6" r="1.8" fill="#0a9216"/>
<circle cx="472.7" cy="302.5" r="1.8" fill="#0a9216"/>
<circle cx="475.8" cy="304.0" r="1.8" fill="#0a9216"/>
<circle cx="466.4" cy="307.5" r="1.8" fill="#0a9216"/>
<circle cx="469.6" cy="309.1" r="1.8" fill="#0a9216"/>
<circle cx="467.9" cy="320.6" r="1.8" fill="#0a9216"/>
<circle cx="471.2" cy="321.2" r="1.8" fill="#0a9216"/>
<circle cx="469.6" cy="333.5" r="1.8" fill="#0a9216"/>
<line x1="492.8" y1="290.3" x2="492.8" y2="322.3" stroke="#2a2a2a" stroke-width="0.9" stroke-linecap="butt"/>
<line x1="488.9" y1="290.3" x2="496.7" y2="290.3" stroke="#2a2a2a" stroke-width="0.9" stroke-linecap="butt"/>
<line x1="488.9" y1="322.3" x2="496.7" y2="322.3" stroke="#2a2a2a" stroke-width="0.9" stroke-linecap="butt"/>
<line x1="485.2" y1="311.2" x2="500.4" y2="311.2" stroke="#111" stroke-width="1.4" stroke-linecap="butt"/>
<circle cx="492.8" cy="260.5" r="1.8" fill="#0f96ff"/>
<circle cx="492.8" cy="264.1" r="1.8" fill="#0f96ff"/>
<circle cx="492.8" cy="276.3" r="1.8" fill="#0f96ff"/>
<circle cx="492.8" cy="285.7" r="1.8" fill="#0f96ff"/>
<circle cx="489.8" cy="290.3" r="1.8" fill="#0f96ff"/>
<circle cx="495.9" cy="290.9" r="1.8" fill="#0f96ff"/>
<circle cx="492.8" cy="295.4" r="1.8" fill="#0f96ff"/>
<circle cx="492.8" cy="302.8" r="1.8" fill="#0f96ff"/>
<circle cx="492.8" cy="307.7" r="1.8" fill="#0f96ff"/>
<circle cx="499.0" cy="308.0" r="1.8" fill="#0f96ff"/>
<circle cx="492.8" cy="311.4" r="1.8" fill="#0f96ff"/>
<circle cx="486.7" cy="311.9" r="1.8" fill="#0f96ff"/>
<circle cx="499.0" cy="314.6" r="1.8" fill="#0f96ff"/>
<circle cx="486.7" cy="316.8" r="1.8" fill="#0f96ff"/>
<circle cx="499.0" cy="318.5" r="1.8" fill="#0f96ff"/>
<circle cx="492.8" cy="321.5" r="1.8" fill="#0f96ff"/>
<circle cx="486.7" cy="323.5" r="1.8" fill="#0f96ff"/>
<circle cx="499.0" cy="324.3" r="1.8" fill="#0f96ff"/>
<circle cx="492.8" cy="326.5" r="1.8" fill="#0f96ff"/>
<circle cx="492.8" cy="330.4" r="1.8" fill="#0f96ff"/>
<circle cx="492.8" cy="334.8" r="1.8" fill="#0f96ff"/>
<line x1="516.3" y1="280.9" x2="516.3" y2="307.2" stroke="#2a2a2a" stroke-width="0.9" stroke-linecap="butt"/>
<line x1="512.4" y1="280.9" x2="520.2" y2="280.9" stroke="#2a2a2a" stroke-width="0.9" stroke-linecap="butt"/>
<line x1="512.4" y1="307.2" x2="520.2" y2="307.2" stroke="#2a2a2a" stroke-width="0.9" stroke-linecap="butt"/>
<line x1="508.7" y1="292.3" x2="523.9" y2="292.3" stroke="#111" stroke-width="1.4" stroke-linecap="butt"/>
<circle cx="516.2" cy="254.6" r="1.8" fill="#ff2a05"/>
<circle cx="522.2" cy="277.8" r="1.8" fill="#ff2a05"/>
<circle cx="519.5" cy="278.7" r="1.8" fill="#ff2a05"/>
<circle cx="516.2" cy="279.6" r="1.8" fill="#ff2a05"/>
<circle cx="513.0" cy="280.9" r="1.8" fill="#ff2a05"/>
<circle cx="509.9" cy="281.3" r="1.8" fill="#ff2a05"/>
<circle cx="522.2" cy="281.8" r="1.8" fill="#ff2a05"/>
<circle cx="514.9" cy="285.9" r="1.8" fill="#ff2a05"/>
<circle cx="517.6" cy="286.4" r="1.8" fill="#ff2a05"/>
<circle cx="516.2" cy="290.1" r="1.8" fill="#ff2a05"/>
<circle cx="513.0" cy="292.3" r="1.8" fill="#ff2a05"/>
<circle cx="519.5" cy="293.3" r="1.8" fill="#ff2a05"/>
<circle cx="519.5" cy="299.0" r="1.8" fill="#ff2a05"/>
<circle cx="516.2" cy="300.8" r="1.8" fill="#ff2a05"/>
<circle cx="513.0" cy="304.9" r="1.8" fill="#ff2a05"/>
<circle cx="519.5" cy="306.7" r="1.8" fill="#ff2a05"/>
<circle cx="516.2" cy="308.5" r="1.8" fill="#ff2a05"/>
<circle cx="519.5" cy="313.1" r="1.8" fill="#ff2a05"/>
<circle cx="516.2" cy="316.5" r="1.8" fill="#ff2a05"/>
<circle cx="519.5" cy="319.0" r="1.8" fill="#ff2a05"/>
<circle cx="513.0" cy="321.4" r="1.8" fill="#ff2a05"/>
<line x1="467.6" y1="236.6" x2="493.3" y2="236.6" stroke="#222" stroke-width="1.1" stroke-linecap="butt"/>
<line x1="492.4" y1="248.3" x2="516.4" y2="248.3" stroke="#222" stroke-width="1.1" stroke-linecap="butt"/>
<text x="504.96" y="246.33" font-size="7.9" font-weight="bold" text-anchor="middle" fill="#111" stroke="#111" stroke-width="0.40" stroke-linejoin="round" letter-spacing="0.93">*</text>
<text x="468.2" y="231.4" font-size="8.0" font-weight="normal" text-anchor="start" fill="#222" stroke="#222" stroke-width="0.15">p=0.08</text>
<path d="M209.3,198.0 L196.6,198.8 Q195.1,198.9 195.1,200.4 L195.1,387.0 Q195.1,388.4 196.6,388.5 L209.3,389.3" fill="none" stroke="#2a2a2a" stroke-width="1.3"/>
<path d="M405.8,102.7 L397.2,103.3 Q395.7,103.4 395.7,104.9 L395.7,271.6 Q395.7,273.0 397.2,273.1 L405.8,273.8" fill="none" stroke="#2a2a2a" stroke-width="1.3"/>
</svg>
</body></html>
